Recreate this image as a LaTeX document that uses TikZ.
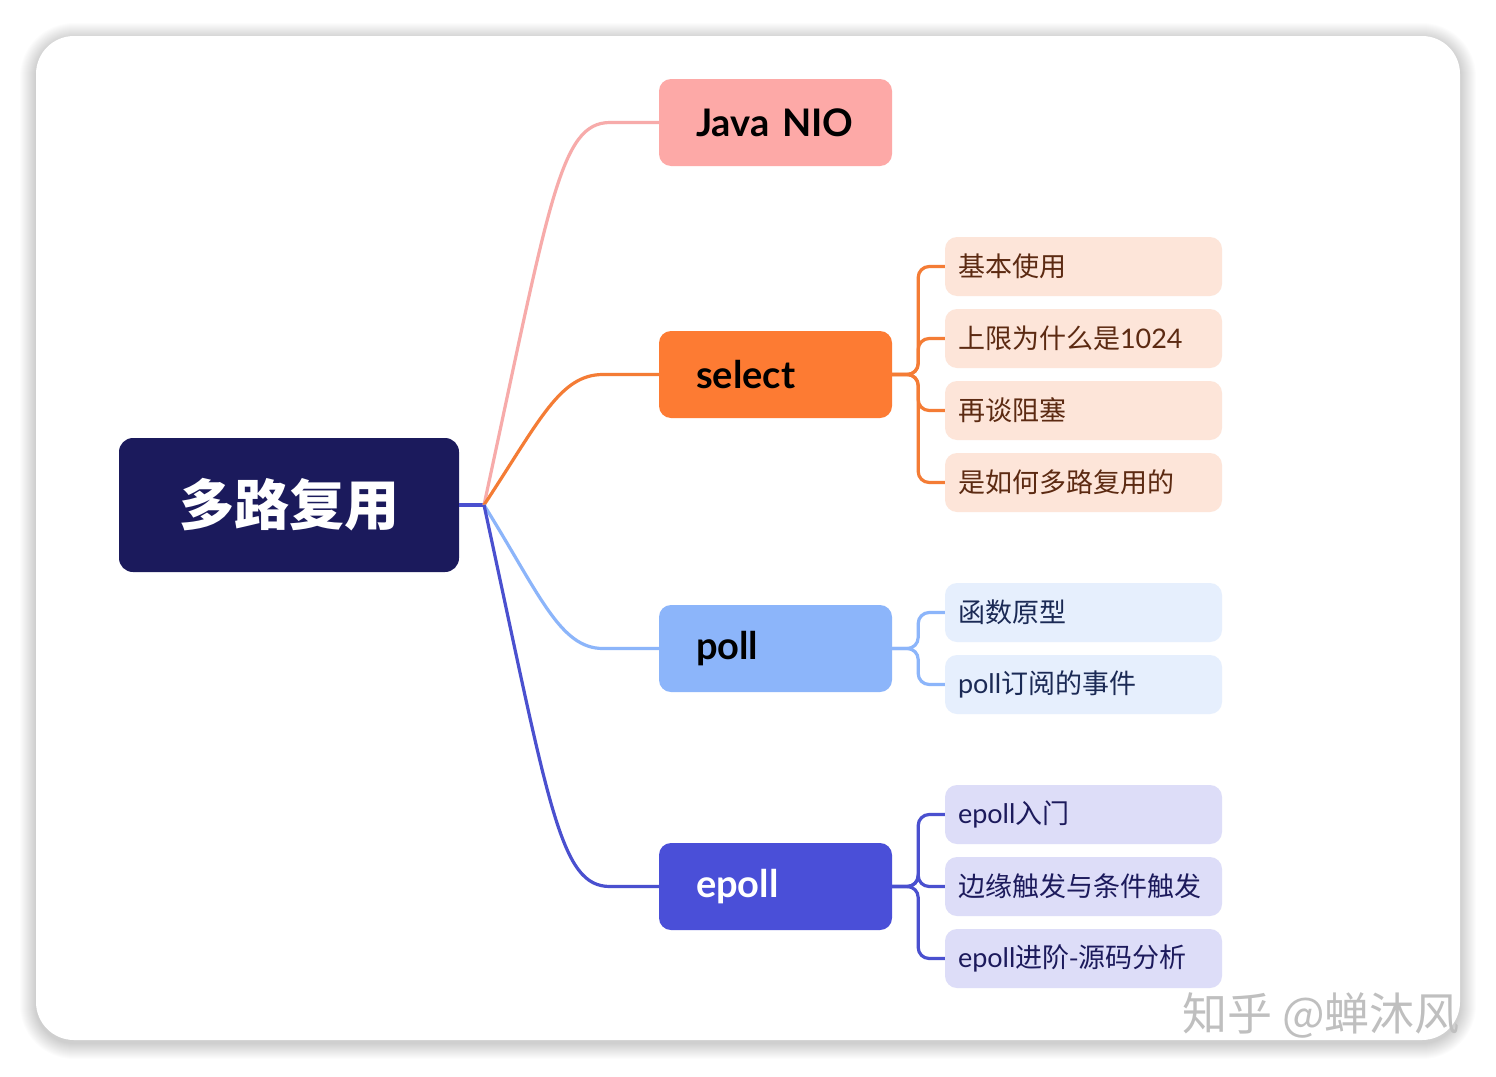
\documentclass[tikz,border=0pt]{standalone}
\usepackage{fontspec}
\setmainfont{Lato}
\newfontfamily\cjk{Noto Sans CJK SC}
\definecolor{rootc}{HTML}{1B1A5C}
\definecolor{pinkc}{HTML}{FDA9A7}
\definecolor{pinkl}{HTML}{F7ABAA}
\definecolor{orc}{HTML}{FD7B33}
\definecolor{orl}{HTML}{F47C35}
\definecolor{pollc}{HTML}{8CB5FA}
\definecolor{epc}{HTML}{4A4FD8}
\definecolor{epl}{HTML}{4A50CF}
\definecolor{orsub}{HTML}{FDE5D9}
\definecolor{polsub}{HTML}{E6EFFD}
\definecolor{epsub}{HTML}{DDDDF8}
\definecolor{ortext}{HTML}{5C2A12}
\definecolor{poltext}{HTML}{1B2A55}
\definecolor{eptext}{HTML}{1C1A5C}
\begin{document}
\begin{tikzpicture}[x=1pt,y=-1pt,
  rootbox/.style={fill=rootc,text=white,rounded corners=14pt,minimum width=340pt,minimum height=134pt,font=\cjk\bfseries\fontsize{55}{60}\selectfont,inner sep=0pt},
  mainbox/.style={rounded corners=12pt,minimum width=233pt,minimum height=87pt,text width=159pt,inner xsep=37pt,inner ysep=0pt,align=left,font=\bfseries\fontsize{38}{42}\selectfont},
  subbox/.style={rounded corners=12pt,minimum width=277pt,minimum height=59pt,text width=251pt,inner xsep=13pt,inner ysep=0pt,align=left,font=\fontsize{27}{30}\selectfont},
  mainline/.style={line width=3.2pt},
  subline/.style={line width=3.2pt,rounded corners=11pt}]
\useasboundingbox (0,0) rectangle (1496,1076);
\fill[white] (0,0) rectangle (1496,1076);
% shadow
\foreach \i in {1,...,16}{
  \fill[black,opacity=0.012,rounded corners=38+\i] (36-\i,36-\i+3) rectangle (1460+\i,1040+\i+3);
}
\fill[white,rounded corners=38pt] (36,36) rectangle (1460,1040);

% nodes
\node[rootbox] (root) at (289,505) {多路复用};
\node[mainbox,fill=pinkc] (java) at (775.5,122.5) {\mbox{Java NIO}};
\node[mainbox,fill=orc] (select) at (775.5,374.5) {select};
\node[mainbox,fill=pollc] (poll) at (775.5,648.5) {poll};
\node[mainbox,fill=epc,text=white] (epoll) at (775.5,886.5) {epoll};

\node[subbox,fill=orsub,text=ortext] (s1) at (1083.5,266.5) {\cjk 基本使用};
\node[subbox,fill=orsub,text=ortext] (s2) at (1083.5,338.5) {{\cjk 上限为什么是}1024};
\node[subbox,fill=orsub,text=ortext] (s3) at (1083.5,410.5) {\cjk 再谈阻塞};
\node[subbox,fill=orsub,text=ortext] (s4) at (1083.5,482.5) {\cjk 是如何多路复用的};

\node[subbox,fill=polsub,text=poltext] (p1) at (1083.5,612.5) {\cjk 函数原型};
\node[subbox,fill=polsub,text=poltext] (p2) at (1083.5,684.5) {poll{\cjk 订阅的事件}};

\node[subbox,fill=epsub,text=eptext] (e1) at (1083.5,814.5) {epoll{\cjk 入门}};
\node[subbox,fill=epsub,text=eptext] (e2) at (1083.5,886.5) {\cjk 边缘触发与条件触发};
\node[subbox,fill=epsub,text=eptext] (e3) at (1083.5,958.5) {epoll{\cjk 进阶-源码分析}};

\node[anchor=east,text=black!25,font=\cjk\fontsize{45}{48}\selectfont,inner sep=0pt] (wm) at (1460,1015) {知乎 @蝉沐风};

% connectors from root
\coordinate (hub) at (484,505);
\draw[mainline,draw=epl] (root.east) -- (hub);
\draw[mainline,draw=pinkl] (hub) .. controls (550,200) and (560,122.5) .. (610,122.5) -- (java.west);
\draw[mainline,draw=orl] (hub) .. controls (540,420) and (560,374.5) .. (603,374.5) -- (select.west);
\draw[mainline,draw=pollc] (hub) .. controls (540,595) and (560,648.5) .. (603,648.5) -- (poll.west);
\draw[mainline,draw=epl] (hub) .. controls (550,810) and (560,886.5) .. (610,886.5) -- (epoll.west);

% sub connectors
\foreach \c in {s1,s2,s3,s4}{
  \draw[subline,draw=orl] (select.east) -- ++(26,0) |- (\c.west);
}
\foreach \c in {p1,p2}{
  \draw[subline,draw=pollc] (poll.east) -- ++(26,0) |- (\c.west);
}
\foreach \c in {e1,e2,e3}{
  \draw[subline,draw=epl] (epoll.east) -- ++(26,0) |- (\c.west);
}
\end{tikzpicture}
\end{document}
